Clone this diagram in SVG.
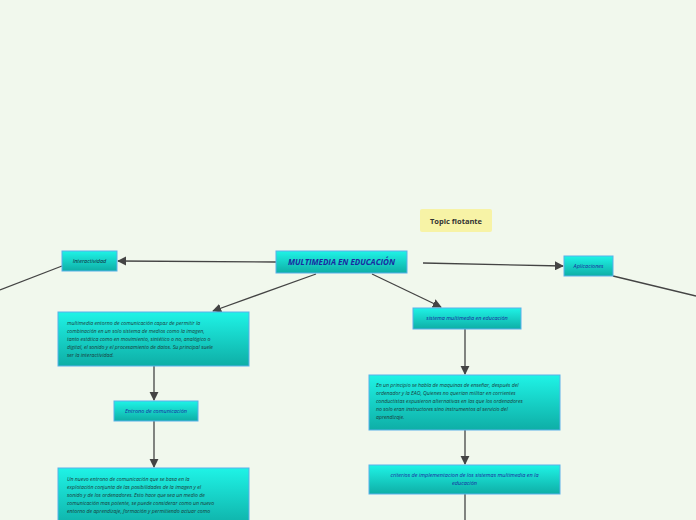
<svg xmlns="http://www.w3.org/2000/svg" width="696" height="520" viewBox="0 0 696 520">
<defs>
<linearGradient id="g" x1="0" y1="0" x2="0" y2="1"><stop offset="0" stop-color="#1ff3e6"/><stop offset="1" stop-color="#0eaea6"/></linearGradient>
<marker id="a" viewBox="0 0 10 10" refX="9" refY="5" markerWidth="7" markerHeight="7" orient="auto"><path d="M0,0L10,5L0,10z" fill="#444"/></marker>
<style>
.n{fill:url(#g);stroke:#5ab0ea;stroke-width:1}
.t{font-family:"Open Sans","DejaVu Sans",sans-serif;font-style:italic;font-size:5.2px;fill:#1a3a3a}
.l{font-family:"Open Sans","DejaVu Sans",sans-serif;font-style:italic;font-size:5.5px;fill:#1a2aa0;text-anchor:middle}
.c{stroke:#444;stroke-width:1.3;fill:none}
</style>
</defs>
<rect width="696" height="520" fill="#f1f8ed"/>
<g id="connectors">
<path class="c" d="M276,262L118,261" marker-end="url(#a)"/>
<path class="c" d="M423,263L563,266" marker-end="url(#a)"/>
<path class="c" d="M316,274L213,311" marker-end="url(#a)"/>
<path class="c" d="M372,274L441,307" marker-end="url(#a)"/>
<path class="c" d="M154,366L154,400" marker-end="url(#a)"/>
<path class="c" d="M154,421L154,467" marker-end="url(#a)"/>
<path class="c" d="M465,329L465,374" marker-end="url(#a)"/>
<path class="c" d="M465,430L465,464" marker-end="url(#a)"/>
<path class="c" d="M465,494L465,520"/>
<path class="c" d="M62,266L0,290"/>
<path class="c" d="M613,276L696,296"/>
</g>
<g id="topic"><rect x="420" y="209" width="72" height="23" rx="2" fill="#f7f3a6"/><text x="456" y="223.5" text-anchor="middle" font-family="Open Sans,sans-serif" font-size="7.5" font-weight="bold" fill="#333">Topic flotante</text></g>
<g id="central"><rect class="n" x="276" y="251" width="131" height="22"/><text class="l" x="341.5" y="265" style="font-size:8px;font-weight:bold">MULTIMEDIA EN EDUCACIÓN</text></g>
<g id="interactividad"><rect class="n" x="62" y="251" width="55" height="20"/><text class="l" x="89.5" y="263" style="fill:#123">Interactividad</text></g>
<g id="aplicaciones"><rect class="n" x="564" y="256" width="49" height="20"/><text class="l" x="588.5" y="268">Aplicaciones</text></g>
<g id="box1"><rect class="n" x="58" y="312" width="191" height="54"/>
<text class="t" x="67" y="325">multimedia entorno de comunicación capaz de permitir la</text>
<text class="t" x="67" y="333">combinación en un solo sistema de medios como la imagen,</text>
<text class="t" x="67" y="341">tanto estática como en movimiento, sintético o no, analógico o</text>
<text class="t" x="67" y="349">digital, el sonido y el procesamiento de datos. Su principal  suele</text>
<text class="t" x="67" y="357">ser la interactividad.</text></g>
<g id="entrono"><rect class="n" x="114" y="401" width="84" height="20"/><text class="l" x="156" y="413">Entrono de comunicación</text></g>
<g id="box2"><rect class="n" x="58" y="468" width="191" height="60"/>
<text class="t" x="67" y="481">Un nuevo entrono de  comunicación que se basa en la</text>
<text class="t" x="67" y="489">explotación conjunta de las posibilidades de la imagen y el</text>
<text class="t" x="67" y="497">sonido y de los ordenadores. Esto hace que sea un medio de</text>
<text class="t" x="67" y="505">comunicación mas potente, se puede considerar como un nuevo</text>
<text class="t" x="67" y="513">entorno de aprendizaje, formación y permitiendo actuar como</text></g>
<g id="sistema"><rect class="n" x="413" y="308" width="108" height="21"/><text class="l" x="467" y="320">sistema  multimedia en educación</text></g>
<g id="box3"><rect class="n" x="369" y="375" width="191" height="55"/>
<text class="t" x="376" y="387">En un principio se habla de maquinas de enseñar, después del</text>
<text class="t" x="376" y="395">ordenador y la EAO, Quienes no querían militar en corrientes</text>
<text class="t" x="376" y="403">conductistas expusieron alternativas en las que los ordenadores</text>
<text class="t" x="376" y="411">no solo eran instructores  sino instrumentos al servicio del</text>
<text class="t" x="376" y="419">aprendizaje.</text></g>
<g id="criterios"><rect class="n" x="369" y="465" width="191" height="29"/>
<text class="l" x="464.5" y="477">criterios de implementacion de los sistemas multimedia en la</text>
<text class="l" x="464.5" y="485">educación</text></g>
</svg>
